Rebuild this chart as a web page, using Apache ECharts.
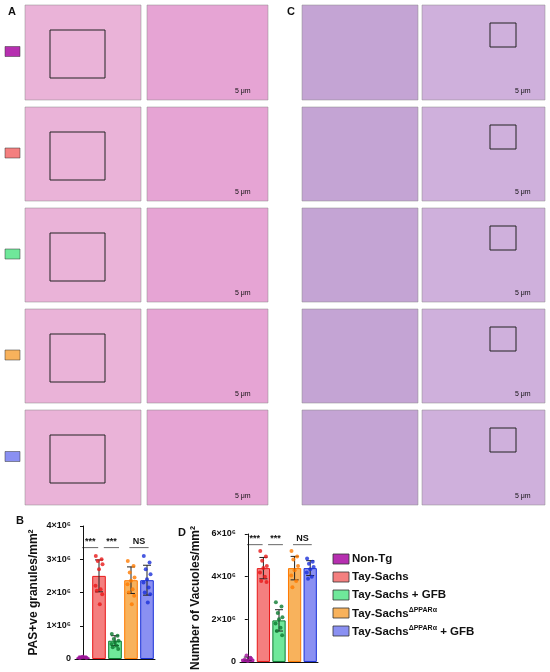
<!DOCTYPE html><html><head><meta charset="utf-8">
<script src="https://cdn.jsdelivr.net/npm/echarts@6/dist/echarts.min.js"></script>
<style>html,body{margin:0;background:#fff}#c{width:550px;height:672px}</style></head><body><div id="c"></div>
<script>
const groups=['Non-Tg','Tay-Sachs','Tay-Sachs + GFB','Tay-Sachs{s|ΔPPARα}','Tay-Sachs{s|ΔPPARα} + GFB'];
const fillColors=['#b62fb0','#f47f7f','#6fe89a','#f8b25c','#8a90f2'];
const dotColors=['#a0169c','#e81818','#0b7a30','#ff7a00','#1a30d8'];
const meanB=[0.05,2.5,0.55,2.37,2.37];
const sdB=[0.02,0.48,0.15,0.4,0.45];
const meanD=[0.15,4.4,1.95,4.4,4.4];
const sdD=[0.08,0.5,0.5,0.55,0.35];
const dotsB=[[0.03,0.05,0.06,0.04,0.07,0.05],
 [3.1,3.0,2.95,2.85,2.7,2.2,2.1,2.05,1.95,1.65],
 [0.75,0.7,0.6,0.55,0.5,0.45,0.4,0.35,0.3],
 [2.95,2.8,2.6,2.45,2.35,2.25,2.1,2.0,1.9,1.65],
 [3.1,2.9,2.7,2.55,2.4,2.3,2.15,2.0,1.95,1.7]];
const dotsD=[[0.1,0.2,0.3,0.15,0.05],
 [5.2,4.95,4.75,4.5,4.4,4.2,4.0,3.8,3.75],
 [2.8,2.6,2.3,2.1,2.0,1.8,1.6,1.45,1.25],
 [5.2,4.95,4.8,4.5,4.3,4.05,3.8,3.5],
 [4.85,4.7,4.6,4.45,4.35,4.2,4.0,3.9]];
const jit=[-0.2,0.16,-0.08,0.22,0.0,-0.22,0.1,-0.14,0.2,0.05];

const ch=echarts.init(document.getElementById('c'));
function barSeries(gi,means,sds){
  const s=[];
  s.push({type:'bar',xAxisIndex:gi*2,yAxisIndex:gi,barWidth:'85%',
    data:means.map((v,i)=>({value:v,itemStyle:{color:fillColors[i],borderColor:dotColors[i],borderWidth:1}})),z:2});
  s.push({type:'custom',xAxisIndex:gi*2,yAxisIndex:gi,z:4,
    data:means.map((v,i)=>[i,v,sds[i]]),
    renderItem:(p,api)=>{const x=api.coord([api.value(0),0])[0];const t=api.coord([api.value(0),api.value(1)+api.value(2)])[1];const b=api.coord([api.value(0),api.value(1)-api.value(2)])[1];const w=4;
      return {type:'group',children:[{type:'line',shape:{x1:x,y1:t,x2:x,y2:b},style:{stroke:'#222',lineWidth:1}},{type:'line',shape:{x1:x-w,y1:t,x2:x+w,y2:t},style:{stroke:'#222',lineWidth:1}},{type:'line',shape:{x1:x-w,y1:b,x2:x+w,y2:b},style:{stroke:'#222',lineWidth:1}}]};}});
  const dots=gi==0?dotsB:dotsD;
  dots.forEach((arr,i)=>s.push({type:'scatter',xAxisIndex:gi*2+1,yAxisIndex:gi,symbol:'circle',symbolSize:4,z:5,
    itemStyle:{color:dotColors[i]},data:arr.map((v,k)=>[i+jit[k%jit.length],v])}));
  return s;
}
function yfmt(v){return v===0?'0':v+'×10⁶';}
const axY=(max,interval,name,gap)=>({type:'value',min:0,max,interval,name,nameLocation:'middle',nameGap:gap,
  nameTextStyle:{fontSize:12,fontWeight:'bold',color:'#111',fontFamily:'Liberation Sans'},
  axisLine:{show:true,lineStyle:{color:'#111'}},axisTick:{show:true,length:3},splitLine:{show:false},
  axisLabel:{formatter:yfmt,fontSize:9,fontWeight:'bold',color:'#111',fontFamily:'Liberation Sans',margin:4}});
const axX=(gi)=>[{type:'category',gridIndex:gi,data:[0,1,2,3,4],axisLabel:{show:false},axisTick:{show:false},axisLine:{lineStyle:{color:'#111'}}},
  {type:'value',gridIndex:gi,min:-0.5,max:4.5,show:false}];

const g=[];
const rows=[[5,100],[107,201],[208,302],[309,403],[410,505]];
const cols=[[25,141,'#eab3d8'],[147,268,'#e6a4d4'],[302,418,'#c4a4d4'],[422,545,'#cfb0dc']];
rows.forEach((r,ri)=>{
  g.push({type:'rect',shape:{x:5,y:(r[0]+r[1])/2-6,width:15,height:10},style:{fill:fillColors[ri],stroke:'#333',lineWidth:0.5}});
  cols.forEach(c=>g.push({type:'rect',shape:{x:c[0],y:r[0],width:c[1]-c[0],height:r[1]-r[0]},style:{fill:c[2],stroke:'#888',lineWidth:0.5}}));
  g.push({type:'rect',shape:{x:50,y:r[0]+25,width:55,height:48},style:{fill:'none',stroke:'#222',lineWidth:1}});
  g.push({type:'rect',shape:{x:490,y:r[0]+18,width:26,height:24},style:{fill:'none',stroke:'#222',lineWidth:1}});
  g.push({type:'text',x:235,y:r[1]-12,style:{text:'5 μm',fontSize:7,fill:'#111'}});
  g.push({type:'text',x:515,y:r[1]-12,style:{text:'5 μm',fontSize:7,fill:'#111'}});
});
g.push({type:'text',x:8,y:6,style:{text:'A',fontSize:11,fontWeight:'bold',fill:'#111'}});
g.push({type:'text',x:287,y:6,style:{text:'C',fontSize:11,fontWeight:'bold',fill:'#111'}});
g.push({type:'text',x:16,y:515,style:{text:'B',fontSize:11,fontWeight:'bold',fill:'#111'}});
g.push({type:'text',x:178,y:527,style:{text:'D',fontSize:11,fontWeight:'bold',fill:'#111'}});
groups.forEach((n,i)=>{const y=554+i*18;
  g.push({type:'rect',shape:{x:333,y:y,width:16,height:10},style:{fill:fillColors[i],stroke:'#333',lineWidth:0.8}});
  g.push({type:'text',x:352,y:y-1,style:{text:n,fontSize:11.5,fontWeight:'bold',fill:'#111',fontFamily:'Liberation Sans',rich:{s:{fontSize:7,fontWeight:'bold',verticalAlign:'top',padding:[0,0,6,0]}}}});
});

ch.setOption({animation:false,
  grid:[{left:75,top:526,width:80,height:133},{left:240,top:534,width:78,height:129}],
  xAxis:[...axX(0),...axX(1)],
  yAxis:[Object.assign(axY(4,1,'PAS+ve granules/mm²',35),{gridIndex:0}),Object.assign(axY(6,2,'Number of Vacuoles/mm²',38),{gridIndex:1})],
  series:[...barSeries(0,meanB,sdB),...barSeries(1,meanD,sdD)],
  graphic:g});
const sig=[];
function mark(gi,a,b,yv,txt){
  const p1=ch.convertToPixel({xAxisIndex:gi*2+1,yAxisIndex:gi},[a,yv]);
  const p2=ch.convertToPixel({xAxisIndex:gi*2+1,yAxisIndex:gi},[b,yv]);
  sig.push({type:'line',shape:{x1:p1[0],y1:p1[1],x2:p2[0],y2:p2[1]},style:{stroke:'#666',lineWidth:1}});
  sig.push({type:'text',x:(p1[0]+p2[0])/2,y:p1[1]-2,style:{text:txt,fontSize:9,fontWeight:'bold',fill:'#111',align:'center',verticalAlign:'bottom'}});
}
mark(0,-0.05,0.95,3.35,'***');mark(0,1.3,2.25,3.35,'***');mark(0,2.9,4.1,3.35,'NS');
mark(1,-0.05,0.95,5.5,'***');mark(1,1.3,2.25,5.5,'***');mark(1,2.9,4.1,5.5,'NS');
ch.setOption({graphic:g.concat(sig)});
</script></body></html>
